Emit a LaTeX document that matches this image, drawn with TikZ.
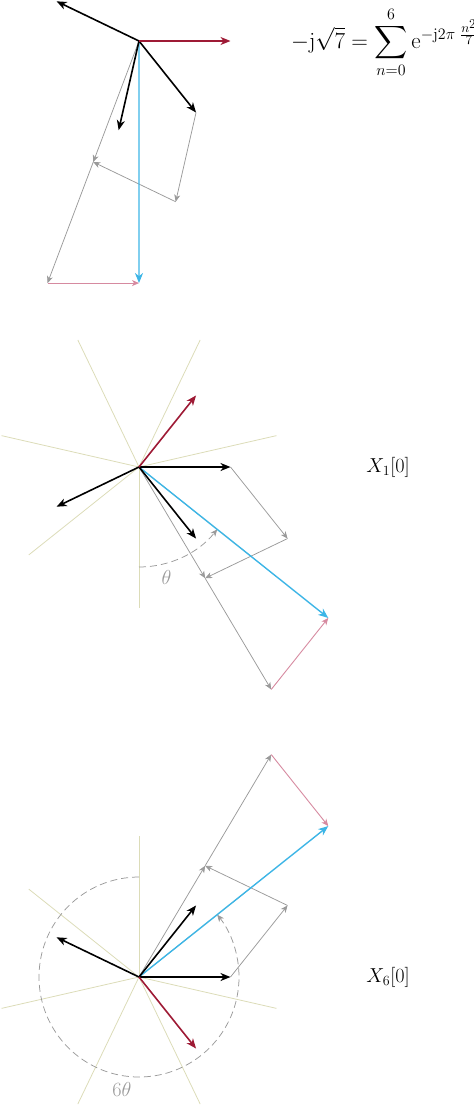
\documentclass[tikz,border=0pt]{standalone}
\usepackage{amsmath}
\usepackage{graphicx}
\usetikzlibrary{arrows.meta,calc}
\definecolor{vred}{HTML}{9E1A35}
\definecolor{vblue}{HTML}{3DB5E6}
\definecolor{vpink}{HTML}{D68AA0}
\definecolor{vgrey}{HTML}{9A9A9A}
\definecolor{vray}{HTML}{DCDCB8}
\newcommand{\bigtxt}[2]{\scalebox{#1}{\fontsize{17.28}{20}\selectfont #2}}
\tikzset{
  blk/.style={line width=1.6pt,black,-{Stealth[length=10pt,width=8pt,inset=3pt]}},
  redv/.style={line width=1.6pt,vred,-{Stealth[length=10pt,width=8pt,inset=3pt]}},
  bluev/.style={line width=1.4pt,vblue,-{Stealth[length=10pt,width=8pt,inset=3pt]}},
  greyv/.style={line width=0.75pt,vgrey,-{Stealth[length=7pt,width=6pt,inset=2pt]}},
  pinkv/.style={line width=0.9pt,vpink,-{Stealth[length=7pt,width=6pt,inset=2pt]}},
  rayl/.style={line width=0.8pt,vray},
  dasharc/.style={line width=0.75pt,vgrey,dash pattern=on 7pt off 4pt},
  lbl/.style={inner sep=0pt},
  glbl/.style={inner sep=0pt,text=vgrey}
}
\begin{document}
\begin{tikzpicture}[x=1pt,y=1pt]
\useasboundingbox (0,0) rectangle (474,-1106);
\pgfmathsetmacro{\r}{91.5}
\pgfmathsetmacro{\th}{360/7}
% ---------------- TOP ----------------
\coordinate (O1) at (139,-41);
\pgfmathsetmacro{\aA}{-\th}\pgfmathsetmacro{\aB}{-2*\th}\pgfmathsetmacro{\aC}{-4*\th}\pgfmathsetmacro{\aR}{0}
\coordinate (A1) at ($(O1)+(\aA:\r)$);
\coordinate (B1) at ($(O1)+(\aB:\r)$);
\coordinate (C1) at ($(O1)+(\aC:\r)$);
\coordinate (R1) at ($(O1)+(\aR:\r)$);
\coordinate (P21) at ($(A1)+(\aB:\r)$);
\coordinate (P31) at ($(P21)+(\aC:\r)$);
\coordinate (Q1) at ($(O1)!2!(P31)$);
\coordinate (Z1) at ($(Q1)+(\aR:\r)$);
\draw[greyv] (A1) -- (P21);
\draw[greyv] (P21) -- (P31);
\draw[greyv] (O1) -- (P31);
\draw[greyv] (P31) -- (Q1);
\draw[pinkv] (Q1) -- (Z1);
\draw[bluev] (O1) -- (Z1);
\draw[blk] (O1) -- (A1);
\draw[blk] (O1) -- (B1);
\draw[blk] (O1) -- (C1);
\draw[redv] (O1) -- (R1);
\node[lbl,anchor=west] (eq) at (291,-42.5) {\bigtxt{1.33}{$\displaystyle -\mathrm{j}\sqrt{7}=\sum_{n=0}^{6}\mathrm{e}^{-\mathrm{j}2\pi\;\frac{n^2}{7}}$}};
% ---------------- MIDDLE ----------------
\coordinate (O2) at (139,-467);
\foreach \k in {0,...,6}{
  \pgfmathsetmacro{\ang}{-90+\k*\th}
  \coordinate (ray2\k) at ($(O2)+(\ang:141)$);
  \draw[rayl] (O2) -- (ray2\k);
}
\pgfmathsetmacro{\aA}{0}\pgfmathsetmacro{\aB}{-\th}\pgfmathsetmacro{\aC}{-3*\th}\pgfmathsetmacro{\aR}{\th}
\coordinate (s2) at ($(O2)+(-90:100)$);
\draw[dasharc,-{Stealth[length=7pt,width=6pt,inset=2pt]}] (s2) arc[start angle=-90,end angle=-90+\th,radius=100];
\node[glbl] (th2) at ($(O2)+(-76:114)$) {\bigtxt{1.17}{$\theta$}};
\coordinate (A2) at ($(O2)+(\aA:\r)$);
\coordinate (B2) at ($(O2)+(\aB:\r)$);
\coordinate (C2) at ($(O2)+(\aC:\r)$);
\coordinate (R2) at ($(O2)+(\aR:\r)$);
\coordinate (P22) at ($(A2)+(\aB:\r)$);
\coordinate (P32) at ($(P22)+(\aC:\r)$);
\coordinate (Q2) at ($(O2)!2!(P32)$);
\coordinate (Z2) at ($(Q2)+(\aR:\r)$);
\draw[greyv] (A2) -- (P22);
\draw[greyv] (P22) -- (P32);
\draw[greyv] (O2) -- (P32);
\draw[greyv] (P32) -- (Q2);
\draw[pinkv] (Q2) -- (Z2);
\draw[bluev] (O2) -- (Z2);
\draw[blk] (O2) -- (A2);
\draw[blk] (O2) -- (B2);
\draw[blk] (O2) -- (C2);
\draw[redv] (O2) -- (R2);
\node[lbl] (x1) at (388,-467) {\bigtxt{1.17}{$X_1[0]$}};
% ---------------- BOTTOM ----------------
\coordinate (O3) at (139,-977);
\foreach \k in {0,...,6}{
  \pgfmathsetmacro{\ang}{90+\k*\th}
  \coordinate (ray3\k) at ($(O3)+(\ang:141)$);
  \draw[rayl] (O3) -- (ray3\k);
}
\pgfmathsetmacro{\aA}{0}\pgfmathsetmacro{\aB}{\th}\pgfmathsetmacro{\aC}{3*\th}\pgfmathsetmacro{\aR}{-\th}
\coordinate (s3) at ($(O3)+(90:100)$);
\draw[dasharc,-{Stealth[length=7pt,width=6pt,inset=2pt]}] (s3) arc[start angle=90,end angle=90+6*\th,radius=100];
\node[glbl] (th3) at ($(O3)+(-98.6:114)$) {\bigtxt{1.17}{$6\theta$}};
\coordinate (A3) at ($(O3)+(\aA:\r)$);
\coordinate (B3) at ($(O3)+(\aB:\r)$);
\coordinate (C3) at ($(O3)+(\aC:\r)$);
\coordinate (R3) at ($(O3)+(\aR:\r)$);
\coordinate (P23) at ($(A3)+(\aB:\r)$);
\coordinate (P33) at ($(P23)+(\aC:\r)$);
\coordinate (Q3) at ($(O3)!2!(P33)$);
\coordinate (Z3) at ($(Q3)+(\aR:\r)$);
\draw[greyv] (A3) -- (P23);
\draw[greyv] (P23) -- (P33);
\draw[greyv] (O3) -- (P33);
\draw[greyv] (P33) -- (Q3);
\draw[pinkv] (Q3) -- (Z3);
\draw[bluev] (O3) -- (Z3);
\draw[blk] (O3) -- (A3);
\draw[blk] (O3) -- (B3);
\draw[blk] (O3) -- (C3);
\draw[redv] (O3) -- (R3);
\node[lbl] (x6) at (388,-977) {\bigtxt{1.17}{$X_6[0]$}};
\end{tikzpicture}
\end{document}
